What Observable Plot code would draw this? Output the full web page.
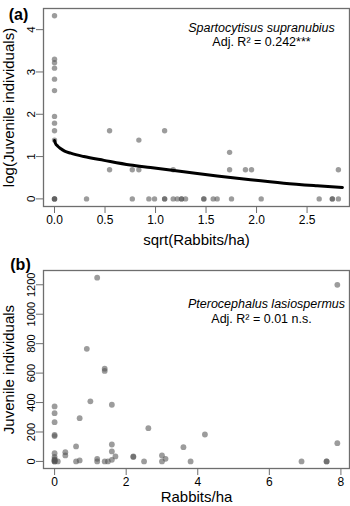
<!DOCTYPE html>
<html>
<head>
<meta charset="utf-8">
<script src="https://cdn.jsdelivr.net/npm/d3@7"></script>
<script src="https://cdn.jsdelivr.net/npm/@observablehq/plot@0.6"></script>
<style>
  html, body { margin: 0; padding: 0; background: #fff; }
  #wrap { width: 350px; font-family: "Liberation Sans", Arial, sans-serif; }
  #wrap svg { display: block; }
</style>
</head>
<body>
<div id="wrap"></div>
<script>
// Panel (a): Spartocytisus supranubius
const aSqrtRabbits = [0, 0, 0, 0, 0, 0, 0, 0, 0, 0, 0, 0, 0,
  0.317, 0.545, 0.545, 0.77, 0.77, 0.835, 0.835, 0.934, 0.99, 1.09, 1.09, 1.09,
  1.175, 1.175, 1.215, 1.257, 1.257, 1.297, 1.478, 1.478, 1.571, 1.61,
  1.733, 1.733, 1.752, 1.89, 1.95, 2.046, 2.62, 2.75, 2.75, 2.81, 2.81];
const aLogJuv = [4.33, 3.30, 3.22, 3.09, 2.83, 2.56, 1.95, 1.79, 1.61, 1.39, 0, 0, 0,
  0, 1.61, 0.69, 0.69, 0, 1.39, 0.69, 0, 0, 1.61, 0, 0,
  0.69, 0, 0, 0, 0, 0, 0, 0, 0, 0,
  1.10, 0.69, 0, 0.69, 0.69, 0, 0, 0, 0, 0.69, 0];
// fitted curve
const aFitX = [0, 0.01, 0.03, 0.06, 0.1, 0.16, 0.29, 0.49, 0.75, 0.95, 1.28, 1.61, 1.94, 2.27, 2.6, 2.85];
const aFitY = [1.38, 1.31, 1.25, 1.19, 1.13, 1.08, 1.00, 0.91, 0.80, 0.74, 0.64, 0.54, 0.45, 0.37, 0.31, 0.27];
const aXTicks = [0, 0.5, 1, 1.5, 2, 2.5];
const aYTicks = [0, 1, 2, 3, 4];

// Panel (b): Pterocephalus lasiospermus
const bRabbits = [0, 0, 0, 0, 0, 0, 0, 0, 0, 0, 0, 0, 0.09,
  0.3, 0.3, 0.6, 0.6, 0.7, 0.7, 0.9, 1.0, 1.19, 1.19, 1.19,
  1.4, 1.4, 1.4, 1.49, 1.6, 1.6, 1.6, 1.6, 1.7,
  2.2, 2.2, 2.5, 2.62, 3.0, 3.0, 3.1, 3.6, 3.8, 4.2, 6.9, 7.6, 7.6, 7.9, 7.9];
const bJuv = [0, 0, 5, 10, 15, 30, 56, 172, 180, 267, 328, 374, 0,
  63, 41, 102, 0, 294, 7, 765, 408, 1248, 18, 0,
  615, 630, 0, 0, 385, 115, 68, 11, 34,
  34, 30, 0, 226, 41, 0, 18, 97, 0, 183, 0, 0, 0, 1200, 124];
const bXTicks = [0, 2, 4, 6, 8];
const bYTicks = [0, 200, 400, 600, 800, 1000, 1200];

const font = '"Liberation Sans", Arial, sans-serif';
const grey = "#6e6e6e";
const dotFill = "#555";

const aPts = aSqrtRabbits.map((x, i) => ({x, y: aLogJuv[i]}));
const aFit = aFitX.map((x, i) => ({x, y: aFitY[i]}));
const bPts = bRabbits.map((x, i) => ({x, y: bJuv[i]}));

const plotA = Plot.plot({
  width: 350, height: 250,
  marginLeft: 43, marginRight: 1, marginTop: 8, marginBottom: 44,
  style: {fontFamily: font, fontSize: "12px", color: "#000", background: "#fff", overflow: "visible"},
  x: {domain: [-0.109, 2.92]},
  y: {domain: [-0.18, 4.5]},
  marks: [
    Plot.frame({stroke: grey, strokeWidth: 1.3}),
    Plot.axisX({ticks: aXTicks, tickFormat: d3.format(".1f"), tickSize: 7, tickPadding: 2, stroke: grey,
      fontSize: 12, label: null}),
    Plot.axisX({ticks: [], tickSize: 0, label: "sqrt(Rabbits/ha)", labelAnchor: "center", labelArrow: "none",
      labelOffset: 38, fontSize: 15}),
    Plot.axisY({ticks: aYTicks, tickFormat: d => String(d), tickSize: 7, tickPadding: 2, stroke: grey, tickRotate: -90,
      fontSize: 11.5, label: null}),
    Plot.axisY({ticks: [], tickSize: 0, label: "log(Juvenile individuals)", labelAnchor: "center", labelArrow: "none",
      labelOffset: 40, fontSize: 15}),
    Plot.dot(aPts, {x: "x", y: "y", r: 2.7, fill: dotFill, fillOpacity: 0.58, stroke: "none"}),
    Plot.line(aFit, {x: "x", y: "y", stroke: "#000", strokeWidth: 3, curve: "monotone-x"}),
    Plot.text(["Spartocytisus supranubius"], {frameAnchor: "top-right", dx: -88, dy: 15, fontSize: 12.5, fontStyle: "italic", textAnchor: "middle"}),
    Plot.text(["Adj. R² = 0.242***"], {frameAnchor: "top-right", dx: -88, dy: 29, fontSize: 12.5, textAnchor: "middle"}),
    Plot.text(["(a)"], {frameAnchor: "top-left", dx: -25, dy: 0, fontSize: 16, fontWeight: "bold", textAnchor: "middle"})
  ]
});

const plotB = Plot.plot({
  width: 350, height: 256,
  marginLeft: 43, marginRight: 1, marginTop: 20, marginBottom: 38,
  style: {fontFamily: font, fontSize: "12px", color: "#000", background: "#fff", overflow: "visible"},
  x: {domain: [-0.31, 8.24]},
  y: {domain: [-48, 1297]},
  marks: [
    Plot.frame({stroke: grey, strokeWidth: 1.3}),
    Plot.axisX({ticks: bXTicks, tickSize: 7, tickPadding: 2, stroke: grey, fontSize: 12, label: null}),
    Plot.axisX({ticks: [], tickSize: 0, label: "Rabbits/ha", labelAnchor: "center", labelArrow: "none",
      labelOffset: 33, fontSize: 15}),
    Plot.axisY({ticks: bYTicks, tickSize: 7, tickPadding: 2, stroke: grey, tickRotate: -90, tickFormat: d => String(d),
      fontSize: 11, label: null}),
    Plot.axisY({ticks: [], tickSize: 0, label: "Juvenile individuals", labelAnchor: "center", labelArrow: "none",
      labelOffset: 40, fontSize: 15}),
    Plot.dot(bPts, {x: "x", y: "y", r: 2.9, fill: dotFill, fillOpacity: 0.58, stroke: "none"}),
    Plot.text(["Pterocephalus lasiospermus"], {frameAnchor: "top-right", dx: -83, dy: 29, fontSize: 12.5, fontStyle: "italic", textAnchor: "middle"}),
    Plot.text(["Adj. R² = 0.01 n.s."], {frameAnchor: "top-right", dx: -88, dy: 44, fontSize: 12.5, textAnchor: "middle"}),
    Plot.text(["(b)"], {frameAnchor: "top-left", dx: -23, dy: -12, fontSize: 16, fontWeight: "bold", textAnchor: "middle"})
  ]
});

document.getElementById("wrap").append(plotA, plotB);
</script>
</body>
</html>
